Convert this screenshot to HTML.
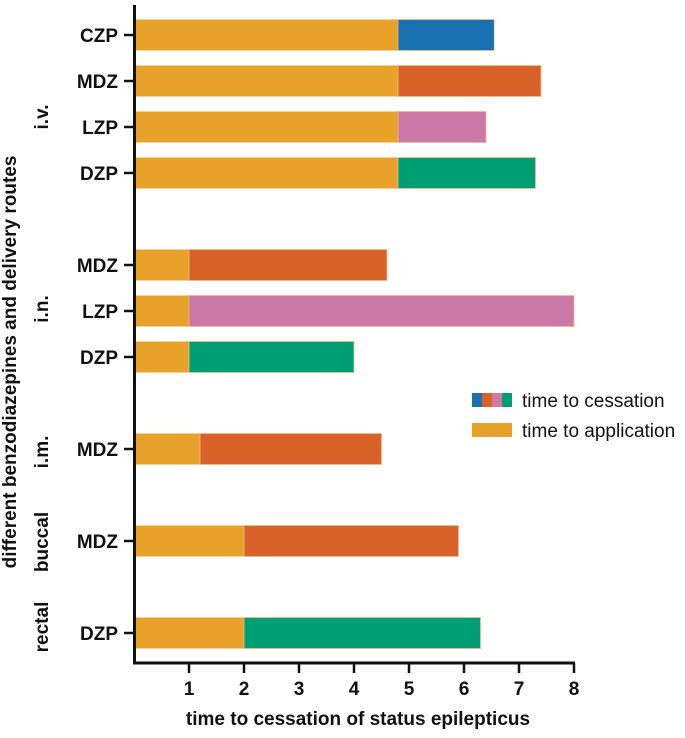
<!DOCTYPE html>
<html><head><meta charset="utf-8"><style>
body{margin:0;background:#fff}
svg text{font-family:"Liberation Sans",Arial,sans-serif;font-weight:bold;fill:#111}
</style></head><body>
<svg width="685" height="733" xmlns="http://www.w3.org/2000/svg">
<g id="bars"></g>
<g id="axes"></g>
<g>
 <rect x="472" y="393" width="10" height="14" fill="#1A70AE"/>
 <rect x="482" y="393" width="10" height="14" fill="#D9622B"/>
 <rect x="492" y="393" width="10" height="14" fill="#CC79A7"/>
 <rect x="502" y="393" width="10" height="14" fill="#009E73"/>
 <text x="522" y="407" style="font-weight:normal;font-size:19px">time to cessation</text>
 <rect x="472" y="423" width="40" height="14" fill="#E8A22A"/>
 <text x="522" y="437" style="font-weight:normal;font-size:19px">time to application</text>
</g>
<text x="358" y="725" text-anchor="middle" font-size="19">time to cessation of status epilepticus</text>
<text transform="translate(16,362) rotate(-90)" text-anchor="middle" font-size="19">different benzodiazepines and delivery routes</text>
<text transform="translate(48,117) rotate(-90)" text-anchor="middle" font-size="19">i.v.</text>
<text transform="translate(48,309) rotate(-90)" text-anchor="middle" font-size="19">i.n.</text>
<text transform="translate(48,452) rotate(-90)" text-anchor="middle" font-size="19">i.m.</text>
<text transform="translate(48,542) rotate(-90)" text-anchor="middle" font-size="19">buccal</text>
<text transform="translate(48,627) rotate(-90)" text-anchor="middle" font-size="19">rectal</text>
</svg>
<script>
const categories=["CZP","MDZ","LZP","DZP","MDZ","LZP","DZP","MDZ","MDZ","DZP"];
const slots=[0,1,2,3,5,6,7,9,11,13];
const application=[4.8,4.8,4.8,4.8,1,1,1,1.2,2,2];
const cessation=[6.55,7.4,6.4,7.3,4.6,8,4,4.5,5.9,6.3];
const drugColors=["#1A70AE","#D9622B","#CC79A7","#009E73","#D9622B","#CC79A7","#009E73","#D9622B","#D9622B","#009E73"];
const xTicks=[1,2,3,4,5,6,7,8];
const NS="http://www.w3.org/2000/svg";
const x=v=>134+v*55;
const y=s=>35+s*46;
const bars=document.getElementById('bars'),axes=document.getElementById('axes');
function mk(tag,attrs,parent){const e=document.createElementNS(NS,tag);for(const k in attrs)e.setAttribute(k,attrs[k]);parent.appendChild(e);return e;}
categories.forEach((c,i)=>{
 const cy=y(slots[i]);
 const a=mk('rect',{x:x(0)+1,y:cy-15.5,width:x(application[i])-x(0)-1,height:31,fill:'#E8A22A'},bars);
 
 
 const b=mk('rect',{x:x(application[i]),y:cy-15.5,width:x(cessation[i])-x(application[i]),height:31,fill:drugColors[i],stroke:'#E8C08A','stroke-width':0.8},bars);
 
 
 const t=mk('line',{x1:124,x2:134,y1:cy,y2:cy,stroke:'#111','stroke-width':2.5},axes);
 
 
 const l=mk('text',{x:118,y:cy+7,'text-anchor':'end','font-size':19},axes);
 l.textContent=c;
 
 
});
const ya=mk('line',{x1:134.5,x2:134.5,y1:5,y2:664,stroke:'#111','stroke-width':3},axes);


const xa=mk('line',{x1:133,x2:575,y1:663,y2:663,stroke:'#111','stroke-width':3},axes);


xTicks.forEach(v=>{
 const t=mk('line',{x1:x(v),x2:x(v),y1:663,y2:673,stroke:'#111','stroke-width':2.5},axes);
 
 
 const l=mk('text',{x:x(v),y:695,'text-anchor':'middle','font-size':19},axes);
 l.textContent=v;
 
 
});
</script>
</body></html>
